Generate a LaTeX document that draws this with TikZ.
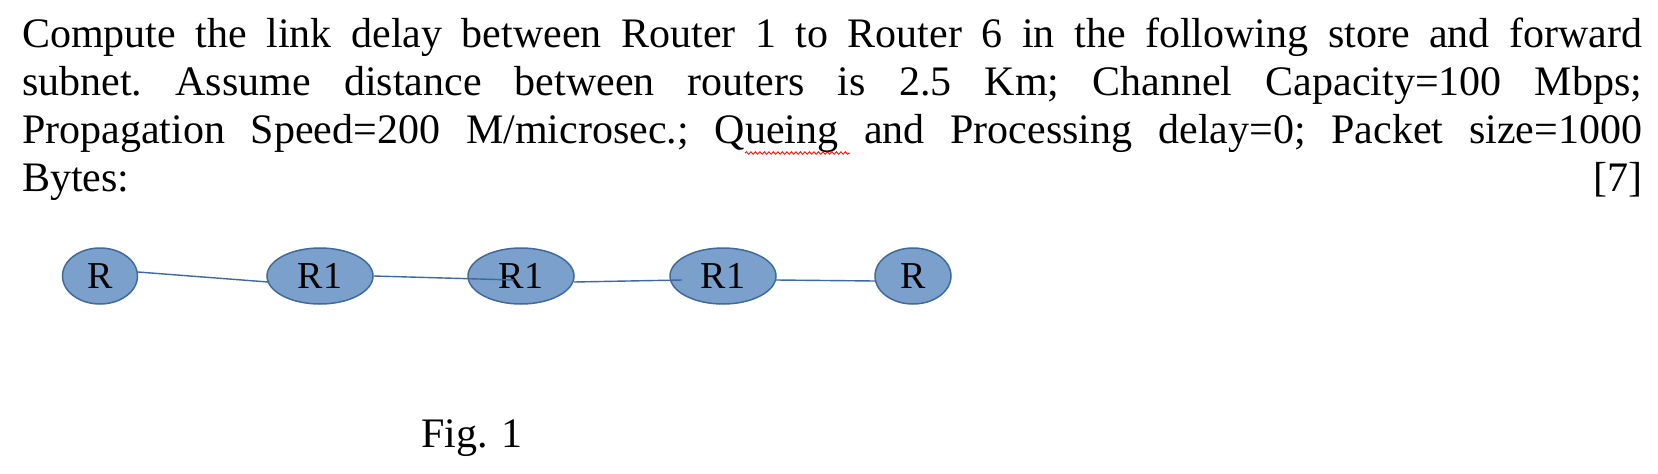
\documentclass[tikz,border=0pt]{standalone}
\usepackage{fontspec}
\setmainfont{Liberation Serif}
\usetikzlibrary{shapes.geometric,decorations.pathmorphing}
\definecolor{nodefill}{HTML}{7BA0CC}
\definecolor{nodeline}{HTML}{41699C}
\definecolor{linkc}{HTML}{3F67A0}
\begin{document}
\begin{tikzpicture}[x=1pt,y=-1pt,
  router/.style={ellipse,draw=nodeline,line width=1.5pt,fill=nodefill,minimum width=#1,minimum height=56pt,inner sep=0pt,font=\fontsize{38}{38}\selectfont},
  link/.style={draw=linkc,line width=1.4pt}]
\useasboundingbox (0,0) rectangle (1658,474);
\node[anchor=north west,text width=1620pt,align=justify,inner sep=0pt,font=\fontsize{42}{48}\selectfont\frenchspacing] (q) at (22,18)
{Compute the link delay between Router 1 to Router 6 in the following store and forward\linebreak subnet. Assume distance between routers is 2.5 Km; Channel Capacity=100 Mbps;\linebreak Propagation Speed=200 M/microsec.; Queing and Processing delay=0; Packet size=1000\linebreak Bytes:\hfill[7]};
\draw[red,line width=0.8pt,decorate,decoration={snake,amplitude=1.3pt,segment length=4.5pt}] (745,153) -- (850,153);
\node[router=75pt] (a) at (100,276) {R};
\node[router=106pt] (b) at (320,276) {R1};
\node[router=106pt] (c) at (521,276) {R1};
\node[router=106pt] (d) at (723,276) {R1};
\node[router=76pt] (e) at (913,276) {R};
\coordinate (a1) at (138,272);
\coordinate (b1) at (268,282);
\coordinate (c1) at (514,280);
\coordinate (c2) at (574,282);
\coordinate (d1) at (682,280);
\coordinate (d2) at (776,280);
\coordinate (e1) at (875,281);
\draw[link] (a1) -- (b1);
\draw[link] (b.east) -- (c1);
\draw[link] (c2) -- (d1);
\draw[link] (d2) -- (e1);
\node[font=\fontsize{42}{48}\selectfont,anchor=base] (f) at (472,447) {Fig. 1};
\end{tikzpicture}
\end{document}
